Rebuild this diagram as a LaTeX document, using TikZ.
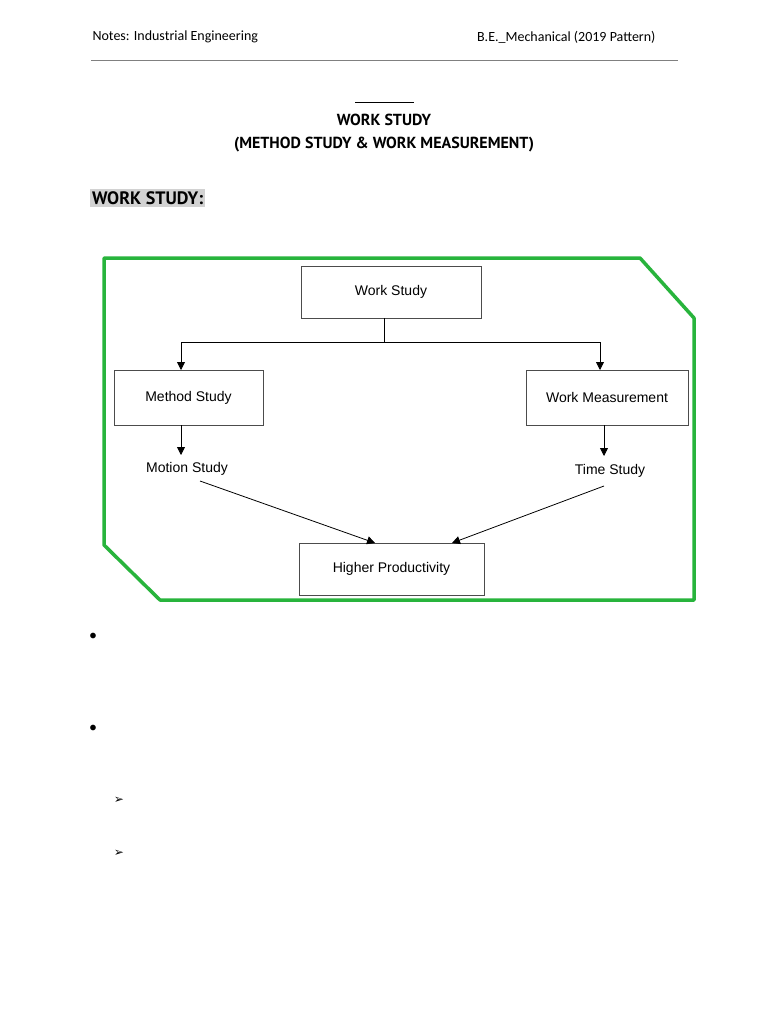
\documentclass[tikz,border=0pt]{standalone}
\usepackage{fontspec}
\setmainfont{Carlito}
\newfontfamily\arialf{Liberation Sans}
\newfontfamily\djv{DejaVu Sans}
\newfontfamily\condf{PT Sans}
\usetikzlibrary{arrows.meta}
\begin{document}
\begin{tikzpicture}[x=1pt,y=-1pt,
  bx/.style={draw=black!70,line width=0.8pt,minimum width=#1,minimum height=52pt,font=\arialf\fontsize{14}{16}\selectfont,inner sep=0pt},
  lbl/.style={font=\arialf\fontsize{14}{16}\selectfont,inner sep=1pt},
  ar/.style={-{Triangle[length=8pt,width=8pt]},line width=0.8pt}]
\useasboundingbox[fill=white] (0,0) rectangle (768,1024);
\node[anchor=west,font=\fontsize{14}{16}\selectfont] (h1) at (89,37) {Notes: Industrial Engineering};
\node[anchor=east,font=\fontsize{14}{16}\selectfont] (h2) at (659,37) {B.E.\_Mechanical (2019 Pattern)};
\draw[gray,line width=1pt] (91,61) -- (678,61);
\draw[line width=1pt] (355,103) -- (414,103);
\node[font=\condf\bfseries\fontsize{16}{18}\selectfont] (t1) at (384,120) {WORK STUDY};
\node[font=\condf\bfseries\fontsize{16}{18}\selectfont] (t2) at (384,145) {(METHOD STUDY \& WORK MEASUREMENT)};
\node[fill=gray!35,anchor=west,inner sep=2pt,font=\condf\bfseries\fontsize{18}{20}\selectfont] (ws) at (90,198) {WORK STUDY:};
\draw[draw={rgb,255:red,40;green,180;blue,60},line width=3.5pt,line join=round]
  (104,258) -- (640,258) -- (694,318) -- (694,600) -- (160,600) -- (104,545) -- cycle;
\node[bx=180pt] (w) at (391,292) {Work Study};
\node[bx=149pt,minimum height=55pt] (m) at (188.5,397.5) {Method Study};
\node[bx=162pt,minimum height=55pt] (wm) at (607,397.5) {Work Measurement};
\node[bx=185pt] (hp) at (391.5,569) {Higher Productivity};
\node[lbl] (ms) at (187,469) {Motion Study};
\node[lbl] (ts) at (610,471) {Time Study};
\coordinate (j) at (384,342);
\draw[line width=0.8pt] (384,318) -- (j);
\draw[ar] (j) -| (181,370);
\draw[ar] (j) -| (600,370);
\draw[ar] (181,425) -- (181,455);
\draw[ar] (604,425) -- (604,456);
\draw[ar] (200,481) -- (375,543);
\draw[ar] (604,486) -- (452,543);
\node[font=\fontsize{16}{18}\selectfont] (b1) at (93,637) {•};
\node[font=\fontsize{16}{18}\selectfont] (b2) at (93,729) {•};
\node[font=\djv\fontsize{12}{14}\selectfont] (a1) at (119,800) {➢};
\node[font=\djv\fontsize{12}{14}\selectfont] (a2) at (119,853) {➢};
\end{tikzpicture}
\end{document}
